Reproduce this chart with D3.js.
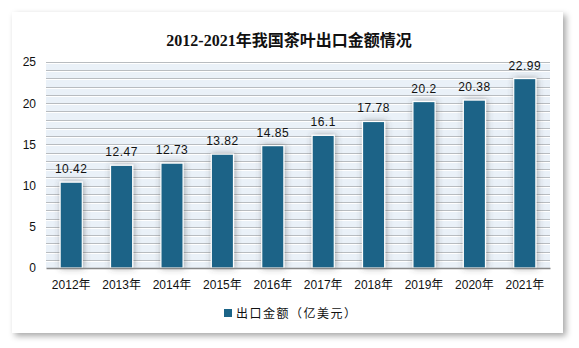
<!DOCTYPE html>
<html>
<head>
<meta charset="utf-8">
<script src="https://cdn.jsdelivr.net/npm/d3@7"></script>
<style>
  body { margin: 0; background: #fff; }
  svg text { font-family: "Liberation Sans", "Noto Sans CJK SC", sans-serif; fill: #111; }
</style>
</head>
<body>
<svg id="chart" width="579" height="348"></svg>
<script>
const years = ["2012年", "2013年", "2014年", "2015年", "2016年", "2017年", "2018年", "2019年", "2020年", "2021年"];
const exportValues = [10.42, 12.47, 12.73, 13.82, 14.85, 16.1, 17.78, 20.2, 20.38, 22.99];
const valueLabels = ["10.42", "12.47", "12.73", "13.82", "14.85", "16.1", "17.78", "20.2", "20.38", "22.99"];
const yTicks = [0, 5, 10, 15, 20, 25];
const seriesName = "出口金额（亿美元）";
const chartTitle = "2012-2021年我国茶叶出口金额情况";

const svg = d3.select("#chart");
const margin = {top: 62, left: 46, right: 29, bottom: 80};
const width = 579 - margin.left - margin.right;
const height = 348 - margin.top - margin.bottom;

const defs = svg.append("defs");
const cardShadow = defs.append("filter").attr("id", "cardShadow")
  .attr("x", "-5%").attr("y", "-5%").attr("width", "115%").attr("height", "115%");
cardShadow.append("feDropShadow").attr("dx", 3).attr("dy", 3).attr("stdDeviation", 3)
  .attr("flood-color", "#000").attr("flood-opacity", 0.35);
const barShadow = defs.append("filter").attr("id", "barShadow")
  .attr("x", "-50%").attr("y", "-20%").attr("width", "200%").attr("height", "140%");
barShadow.append("feDropShadow").attr("dx", 1).attr("dy", 0).attr("stdDeviation", 3)
  .attr("flood-color", "#444").attr("flood-opacity", 0.45);

// card
svg.append("rect")
  .attr("x", 12).attr("y", 12).attr("width", 551).attr("height", 321)
  .attr("fill", "#fff").attr("filter", "url(#cardShadow)");

svg.append("text")
  .attr("x", 289).attr("y", 46)
  .attr("text-anchor", "middle")
  .style("font-family", "'Liberation Serif', 'Noto Sans CJK SC', serif")
  .style("font-size", "16px").style("font-weight", "bold")
  .text(chartTitle);

const x = d3.scaleBand().domain(years).range([0, width]).paddingInner(0.56).paddingOuter(0.28);
const y = d3.scaleLinear().domain([0, 25]).range([height, 0]);

const g = svg.append("g").attr("transform", `translate(${margin.left},${margin.top})`);

g.append("rect").attr("width", width).attr("height", height).attr("fill", "#EAF1F8");

// minor grid every unit
const gridVals = d3.range(1, 26);
g.append("g").selectAll("line.light").data(gridVals).enter().append("line")
  .attr("x1", 0).attr("x2", width)
  .attr("y1", d => Math.round(y(d)) + 1.5).attr("y2", d => Math.round(y(d)) + 1.5)
  .attr("stroke", "#fff").attr("stroke-width", 1);
g.append("g").selectAll("line.dark").data(gridVals).enter().append("line")
  .attr("x1", 0).attr("x2", width)
  .attr("y1", d => Math.round(y(d)) + 0.5).attr("y2", d => Math.round(y(d)) + 0.5)
  .attr("stroke", "#B8BCC0").attr("stroke-width", 1);

// bars
g.append("g").selectAll("rect").data(exportValues).enter().append("rect")
  .attr("x", (d, i) => x(years[i]))
  .attr("y", d => y(d))
  .attr("width", x.bandwidth())
  .attr("height", d => height - y(d))
  .attr("fill", "#1B6487")
  .attr("stroke", "#fff").attr("stroke-width", 1.2)
  .attr("filter", "url(#barShadow)");

g.append("g").selectAll("text").data(exportValues).enter().append("text")
  .attr("x", (d, i) => x(years[i]) + x.bandwidth() / 2)
  .attr("y", d => y(d) - 9)
  .attr("text-anchor", "middle")
  .style("font-size", "12px")
  .style("letter-spacing", "0.5px")
  .text((d, i) => valueLabels[i]);

// x axis
const xAxis = g.append("g").attr("transform", `translate(0,${height})`)
  .call(d3.axisBottom(x).tickSize(0).tickPadding(12));
xAxis.select(".domain").attr("stroke", "#888").attr("stroke-width", 1.5);
xAxis.selectAll("text").style("font-size", "12px").style("fill", "#111");

// y axis
const yAxis = g.append("g")
  .call(d3.axisLeft(y).tickValues(yTicks).tickSize(0).tickPadding(10));
yAxis.select(".domain").remove();
yAxis.selectAll("text").style("font-size", "12px").style("fill", "#111");

// legend
const legend = svg.append("g").attr("transform", "translate(224,309)");
legend.append("rect").attr("width", 8).attr("height", 8).attr("fill", "#1B6487");
legend.append("text").attr("x", 12).attr("y", 8.5)
  .style("font-size", "12px").style("letter-spacing", "1.5px").text(seriesName);
</script>
</body>
</html>
